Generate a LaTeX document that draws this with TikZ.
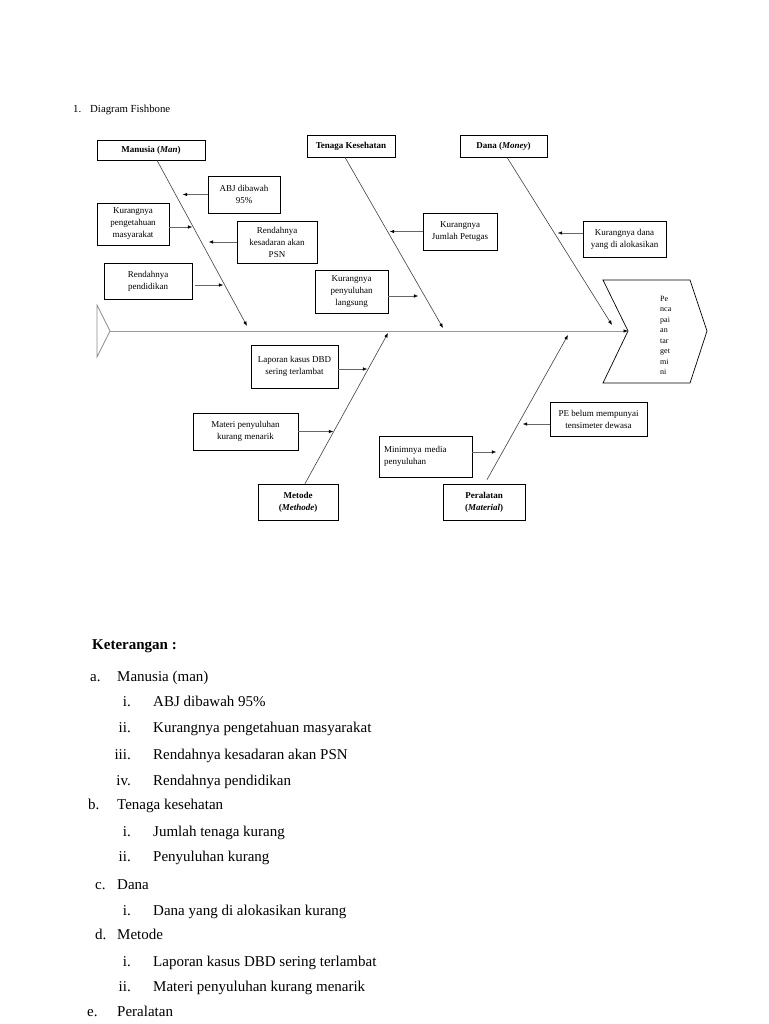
\documentclass[tikz,border=0pt]{standalone}
\usepackage{fontspec}
\setmainfont{Liberation Serif}
\usetikzlibrary{positioning, arrows.meta, calc}

\begin{document}
\begin{tikzpicture}[
            x=1pt, y=-1pt,
            cause/.style={draw, align=center, font=\fontsize{9}{12}\selectfont, inner sep=2pt, line width=0.7pt},
            group/.style={cause, font=\fontsize{9}{12}\selectfont\bfseries},
            arrow/.style={-{Latex[length=4.5pt,width=3.5pt,black]}, draw=black!60, line width=0.6pt},
            bone/.style={arrow, draw=black!75},
            item/.style={anchor=base west, inner sep=0pt, font=\fontsize{15}{17}\selectfont},
            num/.style={item, anchor=base east}
          ]
        \useasboundingbox (0,0) rectangle (768,1024);

        % title
        \node (no) [anchor=base west, inner sep=0pt, font=\fontsize{10.8}{12}\selectfont] at (73,113) {1.};
        \node (title) [anchor=base west, inner sep=0pt, font=\fontsize{10.8}{12}\selectfont] at (90,113) {Diagram Fishbone};

        % groups
        \node (man) [group, minimum width=108, minimum height=20] at (151,150) {Manusia (\textit{Man})};
        \node (nakes) [group, minimum width=88, minimum height=22] at (351,146) {Tenaga Kesehatan};
        \node (dana) [group, minimum width=87, minimum height=22] at (503.5,146) {Dana (\textit{Money})};
        \node (metode) [group, minimum width=80, minimum height=36] at (298,502) {Metode\\(\textit{Methode})};
        \node (alat) [group, minimum width=82, minimum height=36] at (484,502) {Peralatan\\(\textit{Material})};

        % causes
        \node (abj) [cause, minimum width=72, minimum height=37] at (244,194.5) {ABJ dibawah\\95\%};
        \node (tahu) [cause, minimum width=72, minimum height=42] at (133,224) {Kurangnya\\pengetahuan\\masyarakat};
        \node (sadar) [cause, minimum width=80, minimum height=42] at (277,242) {Rendahnya\\kesadaran akan\\PSN};
        \node (didik) [cause, minimum width=88, minimum height=36] at (148,281) {Rendahnya\\pendidikan};
        \node (petugas) [cause, minimum width=74, minimum height=37] at (460,231.5) {Kurangnya\\Jumlah Petugas};
        \node (suluh) [cause, minimum width=73, minimum height=43] at (351.5,291.5) {Kurangnya\\penyuluhan\\langsung};
        \node (alokasi) [cause, minimum width=83, minimum height=36] at (624.5,239) {Kurangnya dana\\yang di alokasikan};
        \node (lapor) [cause, minimum width=87, minimum height=43] at (294.5,366.5) {Laporan kasus DBD\\sering terlambat};
        \node (materi) [cause, minimum width=105, minimum height=37] at (245.5,431.5) {Materi penyuluhan\\kurang menarik};
        \node (media) [cause, align=left, text width=83, inner xsep=5pt, minimum height=41] at (425.5,456.5) {Minimnya media\\penyuluhan};
        \node (tensi) [cause, minimum width=97, minimum height=34] at (598.5,419) {PE belum mempunyai\\tensimeter dewasa};

        % tail, spine and head
        \coordinate (tail) at (110,331);
        \coordinate (notch) at (628,331);
        \draw[draw=black!45, line width=0.7pt] (97,305) -- (tail) -- (97,357) -- cycle;
        \draw[line width=0.7pt] (603,280) -- (690,280) -- (707,331) -- (690,383) -- (603,383) -- (notch) -- cycle;
        \node (target) [anchor=north west, align=left, inner sep=0pt, font=\fontsize{8}{10.5}\selectfont] at (660,296) {Pe\\nca\\pai\\an\\tar\\get\\mi\\ni};
        \draw[arrow, draw=black!40] (tail) -- (notch);

        % bones
        \coordinate (mantip) at (247,326);
        \coordinate (nakestip) at (443,328);
        \coordinate (danatip) at (612,325);
        \coordinate (metodetip) at (388,333);
        \coordinate (alattip) at (568,335);
        \draw[bone] ([xshift=6pt]man.south) -- (mantip);
        \draw[bone] ([xshift=-6pt]nakes.south) -- (nakestip);
        \draw[bone] ([xshift=3.5pt]dana.south) -- (danatip);
        \draw[bone] ([xshift=7pt]metode.north) -- (metodetip);
        \draw[bone] ([xshift=3pt,yshift=4pt]alat.north) -- (alattip);

        % cause arrows
        \draw[arrow] (abj.west) -- ++(-25,0);
        \draw[arrow] ([yshift=-3pt]tahu.east) -- ++(23,0);
        \draw[arrow] (sadar.west) -- ++(-28,0);
        \draw[arrow] ([xshift=3pt,yshift=-4pt]didik.east) -- ++(28,0);
        \draw[arrow] (petugas.west) -- ++(-33,0);
        \draw[arrow] ([yshift=-4.5pt]suluh.east) -- ++(30,0);
        \draw[arrow] ([yshift=6pt]alokasi.west) -- ++(-25,0);
        \draw[arrow] ([yshift=-2.5pt]lapor.east) -- ++(29,0);
        \draw[arrow] (materi.east) -- ++(35,0);
        \draw[arrow] ([yshift=4.5pt]media.east) -- ++(24,0);
        \draw[arrow] ([yshift=-5pt]tensi.west) -- ++(-27,0);

        % legend
        \node (ket) [item, font=\fontsize{15}{17}\selectfont\bfseries] at (92,649.5) {Keterangan :};
        \foreach \nm/\x/\y/\lab/\txt in {a/90/681.5/a./Manusia (man), b/88/809.5/b./Tenaga kesehatan,
            c/95/889.5/c./Dana, d/95/939.5/d./Metode, e/87/1016.5/e./Peralatan}
          {
            \node (lab-\nm) [item] at (\x,\y) {\lab};
            \node (txt-\nm) [item] at (117,\y) {\txt};
          }
        \foreach \nm/\y/\lab/\txt in {a1/706.5/i./ABJ dibawah 95\%, a2/732.5/ii./Kurangnya pengetahuan masyarakat,
            a3/759.5/iii./Rendahnya kesadaran akan PSN, a4/785.5/iv./Rendahnya pendidikan,
            b1/836.5/i./Jumlah tenaga kurang, b2/861.5/ii./Penyuluhan kurang,
            c1/915.5/i./Dana yang di alokasikan kurang,
            d1/966.5/i./Laporan kasus DBD sering terlambat, d2/991.5/ii./Materi penyuluhan kurang menarik}
          {
            \node (lab-\nm) [num] at (131,\y) {\lab};
            \node (txt-\nm) [item] at (153,\y) {\txt};
          }

        \end{tikzpicture}
\end{document}
